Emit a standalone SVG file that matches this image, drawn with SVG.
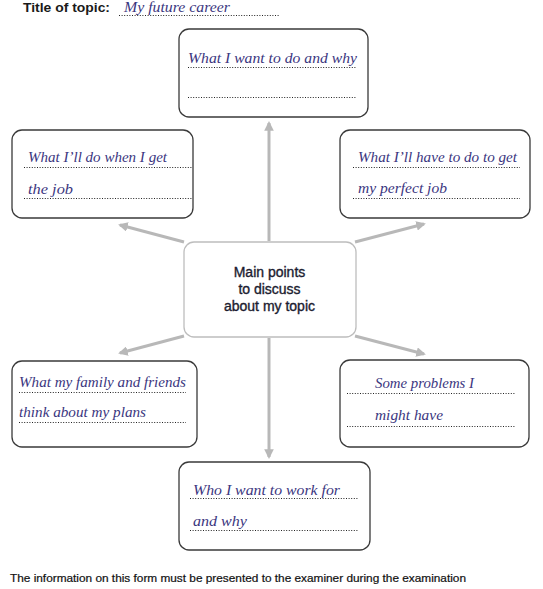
<svg xmlns="http://www.w3.org/2000/svg" width="543" height="589" viewBox="0 0 543 589">
<defs>
<style>
.box{fill:#fff;stroke:#3a3a3a;stroke-width:1.3}
.center{fill:#fff;stroke:#bdbdbd;stroke-width:1.3}
.hand{font-family:"Liberation Serif",serif;font-style:italic;font-size:14.5px;fill:#3b3680}
.dot{stroke:#222;stroke-width:1;stroke-dasharray:1 1.6;fill:none}
.conn{stroke:#b8b8b8;stroke-width:3;fill:none}
.bold{font-family:"Liberation Sans",Arial,sans-serif;font-weight:bold;fill:#1a1a1a}
.mid{font-family:"Liberation Sans",Arial,sans-serif;font-size:14px;fill:#1c1c30;stroke:#1c1c30;stroke-width:0.35;text-anchor:middle}
</style>
<marker id="ah" viewBox="0 0 10 10" refX="8" refY="5" markerWidth="3.2" markerHeight="3.2" orient="auto" markerUnits="strokeWidth">
<path d="M0,0 L10,5 L0,10 Z" fill="#b8b8b8"/>
</marker>
</defs>
<rect width="543" height="589" fill="#fff"/>

<g id="title">
<text class="bold" x="23" y="12" font-size="13" textLength="87" lengthAdjust="spacingAndGlyphs">Title of topic:</text>
<text class="hand" x="124" y="12" textLength="106" lengthAdjust="spacingAndGlyphs">My future career</text>
<line class="dot" x1="119" y1="15.5" x2="280" y2="15.5"/>
</g>

<g id="connectors">
<line class="conn" x1="269" y1="241" x2="269" y2="123" marker-end="url(#ah)"/>
<line class="conn" x1="269" y1="338" x2="269" y2="457" marker-end="url(#ah)"/>
<line class="conn" x1="184" y1="242" x2="120" y2="225" marker-end="url(#ah)"/>
<line class="conn" x1="355" y1="242" x2="424" y2="224" marker-end="url(#ah)"/>
<line class="conn" x1="184" y1="336" x2="120" y2="353" marker-end="url(#ah)"/>
<line class="conn" x1="355" y1="336" x2="424" y2="354" marker-end="url(#ah)"/>
</g>

<g id="center">
<rect class="center" x="184" y="242" width="172" height="95" rx="10"/>
<text class="mid" x="269.5" y="277">Main points</text>
<text class="mid" x="269.5" y="294">to discuss</text>
<text class="mid" x="269.5" y="311">about my topic</text>
</g>

<g id="top">
<rect class="box" x="179" y="29" width="189" height="88" rx="10"/>
<text class="hand" x="188" y="63" textLength="169" lengthAdjust="spacingAndGlyphs">What I want to do and why</text>
<line class="dot" x1="188" y1="67.5" x2="356" y2="67.5"/>
<line class="dot" x1="188" y1="97.5" x2="356" y2="97.5"/>
</g>

<g id="upper-left">
<rect class="box" x="12" y="130" width="181" height="88" rx="10"/>
<text class="hand" x="28" y="162" textLength="139" lengthAdjust="spacingAndGlyphs">What I’ll do when I get</text>
<line class="dot" x1="24" y1="167.5" x2="192" y2="167.5"/>
<text class="hand" x="28" y="194" textLength="45" lengthAdjust="spacingAndGlyphs">the job</text>
<line class="dot" x1="24" y1="198.5" x2="192" y2="198.5"/>
</g>

<g id="upper-right">
<rect class="box" x="340" y="130" width="190" height="88" rx="10"/>
<text class="hand" x="358" y="162" textLength="159" lengthAdjust="spacingAndGlyphs">What I’ll have to do to get</text>
<line class="dot" x1="353" y1="167.5" x2="520" y2="167.5"/>
<text class="hand" x="358" y="193" textLength="89" lengthAdjust="spacingAndGlyphs">my perfect job</text>
<line class="dot" x1="353" y1="198.5" x2="520" y2="198.5"/>
</g>

<g id="lower-left">
<rect class="box" x="12" y="361" width="185" height="86" rx="10"/>
<text class="hand" x="19" y="387" textLength="167" lengthAdjust="spacingAndGlyphs">What my family and friends</text>
<line class="dot" x1="19" y1="392.5" x2="186" y2="392.5"/>
<text class="hand" x="19" y="417" textLength="127" lengthAdjust="spacingAndGlyphs">think about my plans</text>
<line class="dot" x1="19" y1="422.5" x2="186" y2="422.5"/>
</g>

<g id="lower-right">
<rect class="box" x="340" y="360" width="189" height="87" rx="10"/>
<text class="hand" x="375" y="388" textLength="99" lengthAdjust="spacingAndGlyphs">Some problems I</text>
<line class="dot" x1="347" y1="393.5" x2="515" y2="393.5"/>
<text class="hand" x="375" y="420" textLength="68" lengthAdjust="spacingAndGlyphs">might have</text>
<line class="dot" x1="347" y1="426.5" x2="515" y2="426.5"/>
</g>

<g id="bottom">
<rect class="box" x="179" y="462" width="191" height="88" rx="10"/>
<text class="hand" x="193" y="495" textLength="147" lengthAdjust="spacingAndGlyphs">Who I want to work for</text>
<line class="dot" x1="190" y1="498.5" x2="358" y2="498.5"/>
<text class="hand" x="193" y="526" textLength="54" lengthAdjust="spacingAndGlyphs">and why</text>
<line class="dot" x1="190" y1="530.5" x2="358" y2="530.5"/>
</g>

<g id="footer">
<text x="10" y="582" font-family="'Liberation Sans',Arial,sans-serif" font-size="10.5" fill="#111" stroke="#111" stroke-width="0.2" textLength="456" lengthAdjust="spacingAndGlyphs">The information on this form must be presented to the examiner during the examination</text>
</g>
</svg>
